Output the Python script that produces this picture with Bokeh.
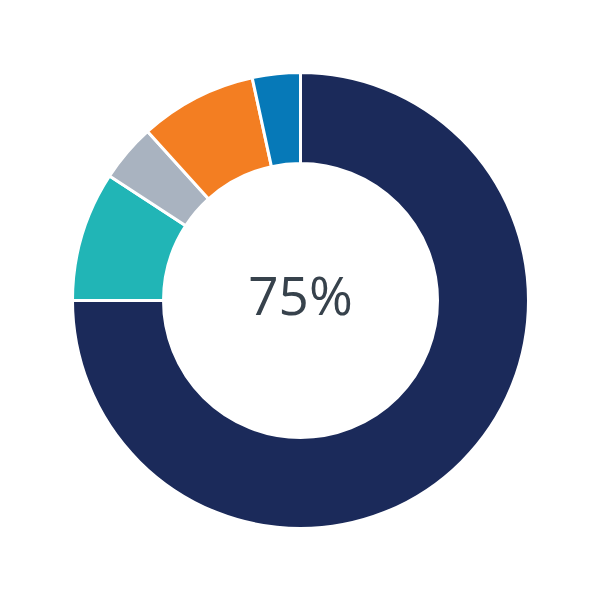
import math
from bokeh.plotting import figure
from bokeh.models import ColumnDataSource
from bokeh.embed import file_html
from bokeh.resources import INLINE
from bokeh.core.properties import value

categories = ["A", "B", "C", "D", "E"]
values = [75.0, 9.2, 4.1, 8.3, 3.4]
colors = ["#1b2a5a", "#21b5b6", "#a9b3c0", "#f37e22", "#0679b8"]
center_label = "75%"

total = sum(values)
starts, ends = [], []
acc = 0.0
for v in values:
    a0 = math.pi / 2 - 2 * math.pi * acc / total
    acc += v
    a1 = math.pi / 2 - 2 * math.pi * acc / total
    starts.append(a0)
    ends.append(a1)

src = ColumnDataSource(dict(cat=categories, val=values, color=colors,
                            start=starts, end=ends))

W = 584
p = figure(width=W, height=W, x_range=(-300, W - 300), y_range=(-(W - 300), 300),
           output_backend="svg", toolbar_location=None, min_border=0)
p.annular_wedge(x=0, y=0, inner_radius=137, outer_radius=228,
                start_angle="start", end_angle="end", direction="clock",
                fill_color="color", line_color="white", line_width=3, source=src)
p.text(x=[0], y=[6], text=[center_label], text_align="center", text_baseline="middle",
       text_font=value("Open Sans"), text_font_size="53px", text_color="#37424c")
p.axis.visible = False
p.grid.visible = False
p.outline_line_color = None
p.background_fill_color = "white"
p.border_fill_color = "white"

open("out.html", "w").write(file_html(p, INLINE))
